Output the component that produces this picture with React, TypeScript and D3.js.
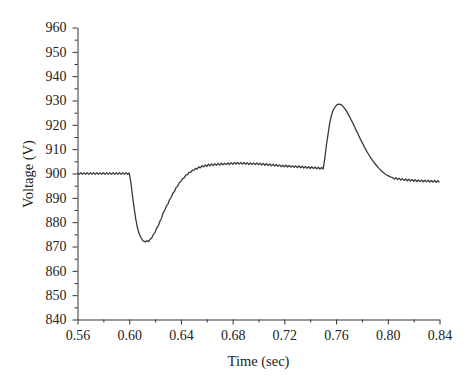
import React, { useEffect, useRef } from "react";
import * as d3 from "d3";

// sample grid of the recorded trace
const timeStart = 0.56;
const timeStep = 0.00125;

// steady state before the load step
const baseline = [
  900.35, 899.65, 900.35, 899.65, 900.35, 899.65, 900.35, 899.65,
  900.35, 899.65, 900.35, 899.65, 900.35, 899.65, 900.35, 899.65,
  900.35, 899.65, 900.35, 899.65, 900.35, 899.65, 900.35, 899.65,
  900.35, 899.65, 900.35, 899.65, 900.35, 899.65, 900.35, 899.65,
  900.2,
];

// sag and recovery
const dip = [
  896.5, 891, 886, 881.5, 878, 875.5, 874, 872.8, 872.2, 871.9, 872.4, 872.0,
  873.0, 873.6, 875.0, 875.8, 877.6, 878.5, 880.4, 881.6, 883.8, 884.9, 886.6,
  887.5, 889.3, 890.2, 891.9, 892.6, 894.2, 894.8, 896.2, 896.7, 897.9, 898.2,
  899.3, 899.5, 900.5, 900.5, 901.4, 901.3, 902.1, 901.8, 902.7, 902.3, 903.2,
  902.7, 903.5, 902.9,
];

// plateau after recovery
const plateau = [
  903.85, 903.2, 903.95, 903.25, 904.05, 903.35, 904.1, 903.45, 904.2, 903.55,
  904.25, 903.65, 904.35, 903.7, 904.45, 903.75, 904.5, 903.85, 904.55, 903.85,
  904.55, 903.85, 904.5, 903.75, 904.45, 903.7, 904.35, 903.65, 904.35, 903.65,
  904.3, 903.55, 904.25, 903.5, 904.15, 903.4, 904.05, 903.3, 903.95, 903.15,
  903.8, 903.05, 903.7, 902.95, 903.55, 902.8, 903.45, 902.75, 903.4, 902.65,
  903.35, 902.6, 903.25, 902.5, 903.15, 902.45, 903.1, 902.35, 903.0, 902.25,
  902.9, 902.15, 902.8, 902.05, 902.75, 902.0, 902.65, 901.9, 902.55, 901.85,
  902.45,
];

// overshoot on load removal
const overshoot = [
  901.8, 906, 911.5, 916, 920.5, 923.5, 925.7, 927.0, 927.9, 928.4, 928.5,
  928.3, 927.8, 927.0, 926.1, 925.0, 923.8, 922.5, 921.2, 919.8, 918.4, 917.0,
  915.6, 914.2, 912.9, 911.6, 910.3, 909.1, 908.0, 906.9, 905.9, 905.0, 904.1,
  903.3, 902.5, 901.8, 901.1, 900.5, 900.0, 899.5, 899.1, 898.8, 898.5, 898.3,
];

// final settling
const settle = [
  897.75, 898.3, 897.5, 898.1, 897.3, 897.9, 897.15, 897.75, 897.0, 897.65,
  896.9, 897.55, 896.8, 897.45, 896.7, 897.35, 896.65, 897.3, 896.6, 897.25,
  896.55, 897.2, 896.5, 897.15, 896.45, 897.1, 896.4, 897.05, 896.35,
];

const xTicks = [0.56, 0.6, 0.64, 0.68, 0.72, 0.76, 0.8, 0.84];
const yTicks = [840, 850, 860, 870, 880, 890, 900, 910, 920, 930, 940, 950, 960];

const W = 474;
const H = 391;
const FONT = "'Liberation Serif', 'DejaVu Serif', serif";
const INK = "#333";

export default function App() {
  const ref = useRef<SVGSVGElement>(null);

  useEffect(() => {
    const svg = d3.select(ref.current);
    svg.selectAll("*").remove();

    const voltage = [...baseline, ...dip, ...plateau, ...overshoot, ...settle];
    const data = voltage.map((v, i) => ({ t: timeStart + i * timeStep, v }));

    const x = d3.scaleLinear().domain([0.56, 0.84]).range([77.5, 439.5]);
    const y = d3.scaleLinear().domain([840, 960]).range([319.5, 27.5]);

    // minor ticks first so majors sit on top
    svg
      .append("g")
      .attr("transform", `translate(0,${y(840)})`)
      .call(d3.axisBottom(x).tickValues(d3.range(0.58, 0.84, 0.04)).tickSize(3).tickFormat(() => ""))
      .call((g) => g.select(".domain").remove());
    svg
      .append("g")
      .attr("transform", `translate(${x(0.56)},0)`)
      .call(d3.axisLeft(y).tickValues(d3.range(845, 960, 10)).tickSize(3).tickFormat(() => ""))
      .call((g) => g.select(".domain").remove());

    const xAxis = svg
      .append("g")
      .attr("transform", `translate(0,${y(840)})`)
      .call(d3.axisBottom(x).tickValues(xTicks).tickSize(5).tickPadding(6).tickSizeOuter(0).tickFormat(d3.format(".2f")));
    const yAxis = svg
      .append("g")
      .attr("transform", `translate(${x(0.56)},0)`)
      .call(d3.axisLeft(y).tickValues(yTicks).tickSize(5).tickPadding(6).tickSizeOuter(0).tickFormat(d3.format("d")));

    [xAxis, yAxis].forEach((g) => {
      g.selectAll("text").style("font-family", FONT).style("font-size", "14px").attr("fill", "#222");
    });
    svg.selectAll("line, path.domain").attr("stroke", INK);

    svg
      .append("path")
      .datum(data)
      .attr("fill", "none")
      .attr("stroke", "#3a3a3a")
      .attr("stroke-width", 1.3)
      .attr("stroke-linejoin", "round")
      .attr("d", d3.line<{ t: number; v: number }>().x((d) => x(d.t)).y((d) => y(d.v)));

    svg
      .append("text")
      .attr("x", 258.5)
      .attr("y", 366)
      .attr("text-anchor", "middle")
      .style("font-family", FONT)
      .style("font-size", "14.5px")
      .attr("fill", "#222")
      .text("Time (sec)");

    svg
      .append("text")
      .attr("transform", "translate(33,174) rotate(-90)")
      .attr("text-anchor", "middle")
      .style("font-family", FONT)
      .style("font-size", "14.5px")
      .attr("fill", "#222")
      .text("Voltage (V)");
  }, []);

  return (
    <div style={{ position: "absolute", left: 0, top: 0, background: "#fff" }}>
      <svg ref={ref} width={W} height={H}></svg>
    </div>
  );
}
